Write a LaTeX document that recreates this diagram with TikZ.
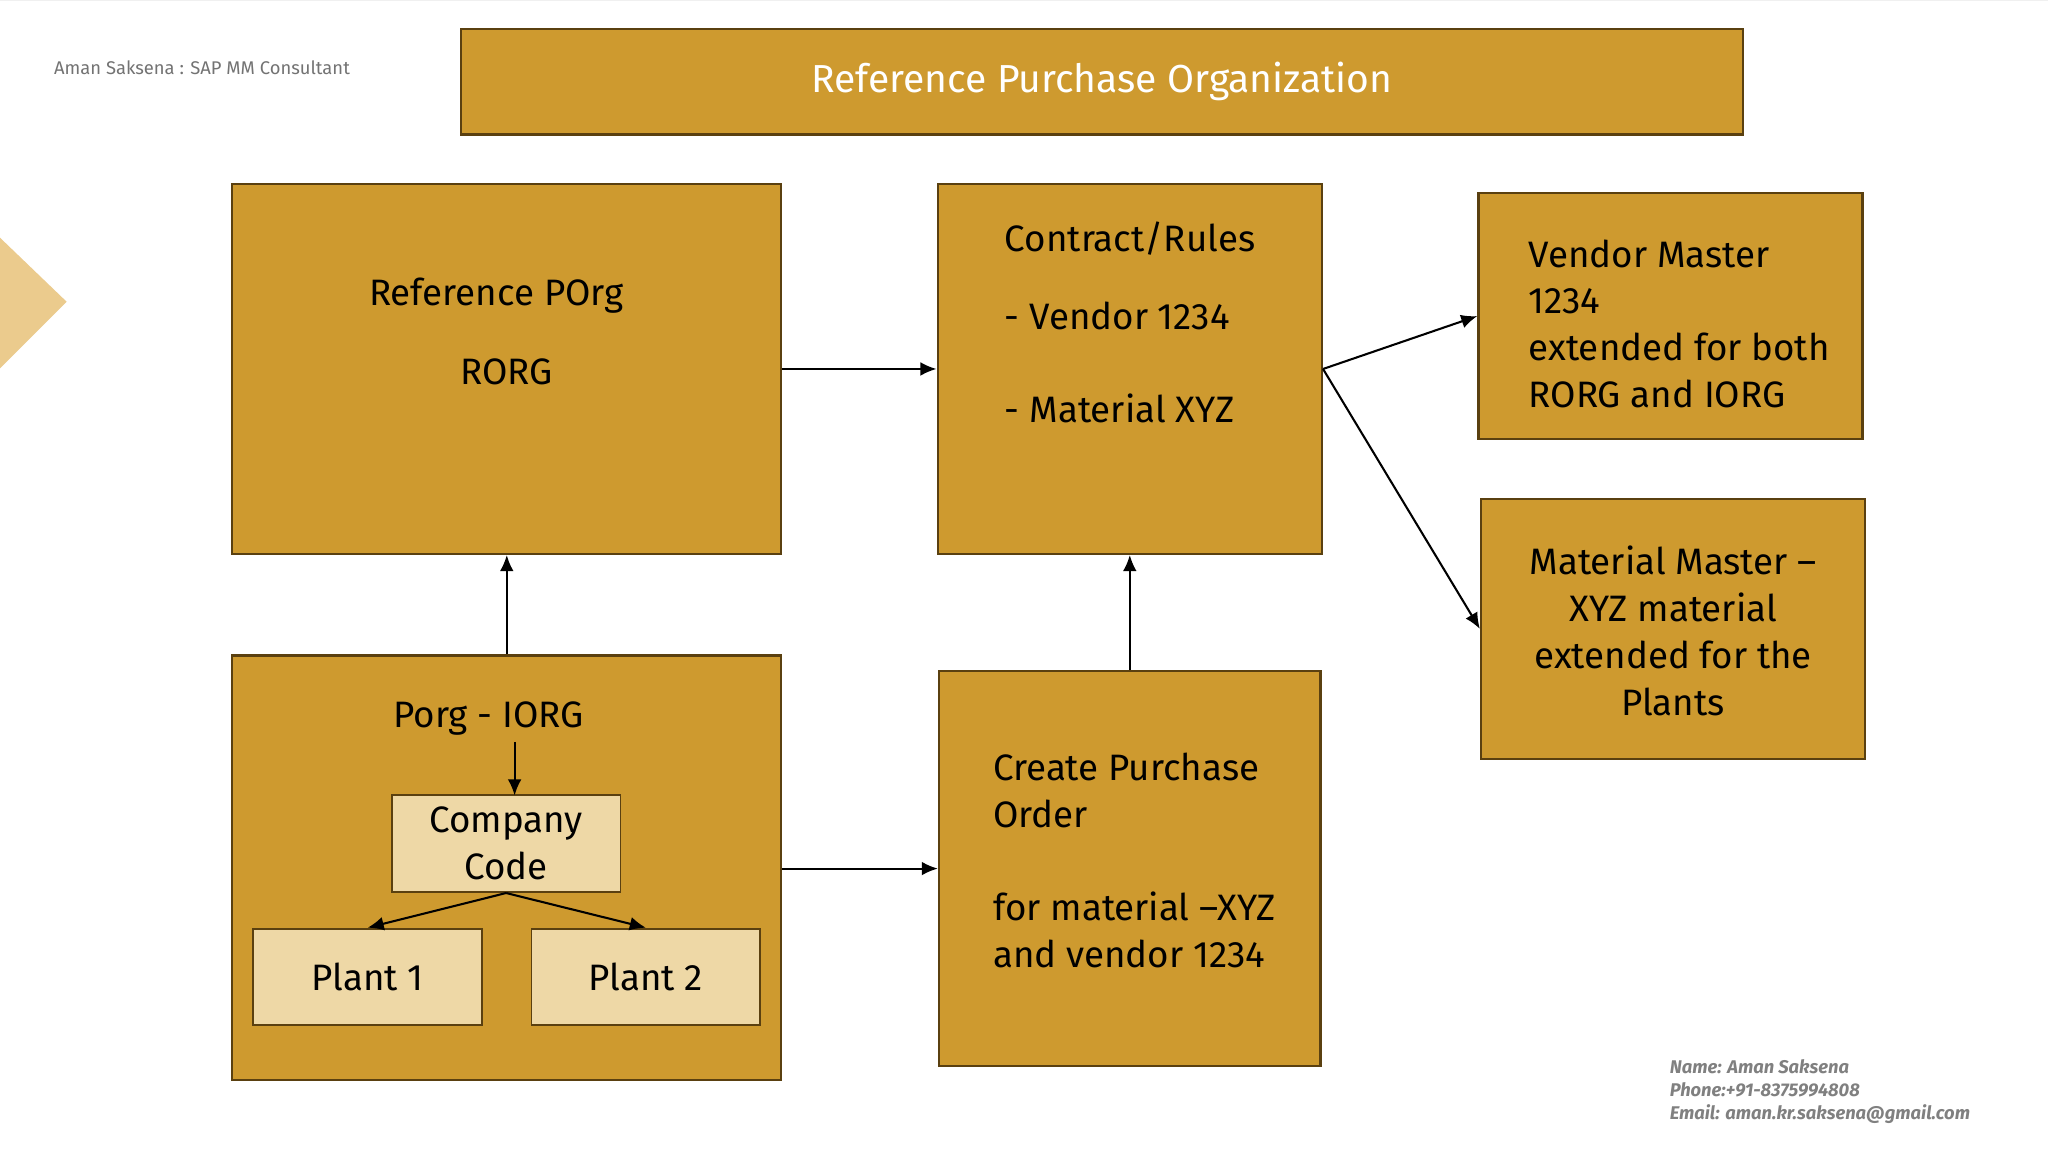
\documentclass[tikz,border=0pt]{standalone}
\usepackage{fontspec}
\setmainfont{Fira Sans}
\usetikzlibrary{arrows.meta}
\definecolor{gold}{HTML}{CE9A2F}
\definecolor{edge}{HTML}{5A4010}
\definecolor{light}{HTML}{EED8A6}
\definecolor{tri}{HTML}{EBCB8D}
\begin{document}
\begin{tikzpicture}[x=0.01cm,y=-0.01cm,
  box/.style={draw=edge,line width=0.5pt,fill=gold},
  lbox/.style={draw=edge,line width=0.4pt,fill=light},
  txt/.style={text=black,font=\fontsize{8}{10.2}\selectfont},
  wtxt/.style={text=white,font=\fontsize{8.5}{10}\selectfont},
  arr/.style={-{Latex[length=3.5pt,width=3pt]},line width=0.45pt,black}]
\useasboundingbox (0,0) rectangle (1568,882);
\fill[white] (0,0) rectangle (1568,882);
\draw[black!6,line width=0.3pt,step=0.39cm] (0,0) grid (1568,-882);
\fill[tri] (0,182) -- (51,231) -- (0,282) -- cycle;
\node[anchor=west,text=black!55,font=\fontsize{4}{5}\selectfont] (author) at (29,52) {Aman Saksena : SAP MM Consultant};
\node[box,minimum width=9.81cm,minimum height=0.81cm,inner sep=0pt,wtxt] (title) at (843.5,62.5) {Reference Purchase Organization};
% boxes
\node[box,minimum width=4.2cm,minimum height=2.83cm,inner sep=0pt] (ref) at (388,282.5) {};
\node[txt] (reft1) at (380,226) {Reference POrg};
\node[txt] (reft2) at (388,285) {RORG};
\node[box,minimum width=2.94cm,minimum height=2.83cm,inner sep=0pt] (con) at (865,282.5) {};
\node[txt,anchor=west] (cont1) at (757,183) {Contract/Rules};
\node[txt,anchor=west] (cont2) at (757,242) {- Vendor 1234};
\node[txt,anchor=west] (cont3) at (757,313) {- Material XYZ};
\node[box,minimum width=2.94cm,minimum height=1.88cm,inner sep=0pt] (ven) at (1279,242) {};
\node[txt,anchor=north west,align=left] (vent) at (1158,171) {Vendor Master\\1234\\extended for both\\RORG and IORG};
\node[box,minimum width=2.94cm,minimum height=1.99cm,inner sep=0pt] (mat) at (1281,481.5) {};
\node[txt,align=center] (matt) at (1281,483) {Material Master –\\XYZ material\\extended for the\\Plants};
\node[box,minimum width=4.2cm,minimum height=3.25cm,inner sep=0pt] (iorg) at (388,664.5) {};
\node[txt] (iorgt) at (374,550) {Porg - IORG};
\node[lbox,minimum width=1.75cm,minimum height=0.74cm,inner sep=0pt,txt,align=center] (cc) at (387.5,646) {Company\\Code};
\node[lbox,minimum width=1.75cm,minimum height=0.74cm,inner sep=0pt,txt] (p1) at (281.5,748) {Plant 1};
\node[lbox,minimum width=1.75cm,minimum height=0.74cm,inner sep=0pt,txt] (p2) at (494.5,748) {Plant 2};
\node[box,minimum width=2.92cm,minimum height=3.02cm,inner sep=0pt] (po) at (865,665) {};
\node[txt,anchor=north west,align=left] (pot) at (748,564) {Create Purchase\\Order\\\phantom{x}\\for material –XYZ\\and vendor 1234};
\node[anchor=north west,align=left,text=black!50,font=\fontsize{4}{5}\selectfont\bfseries\itshape] (contact) at (1266,799) {Name: Aman Saksena\\Phone:+91-8375994808\\Email: aman.kr.saksena@gmail.com};
% arrows
\draw[arr] (ref.east) -- (con.west);
\draw[arr] (iorg.north) -- (ref.south);
\draw[arr] (po.north) -- (con.south);
\draw[arr] (iorg.east |- po.west) -- (po.west);
\draw[arr] (con.east) -- (ven.west);
\draw[arr] (con.east) -- (mat.west);
\draw[arr] (394,568) -- (394,609);
\draw[arr] (cc.south) -- (p1.north);
\draw[arr] (cc.south) -- (p2.north);
\end{tikzpicture}
\end{document}
